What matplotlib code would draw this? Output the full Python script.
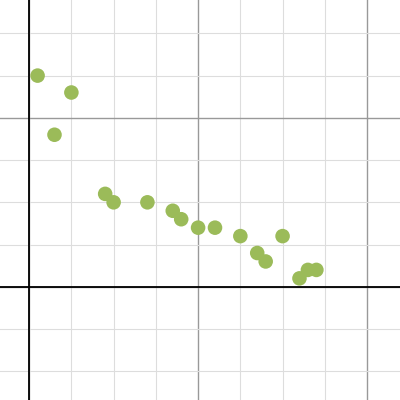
import matplotlib
matplotlib.use("Agg")
import matplotlib.pyplot as plt
import numpy as np

x_vals = [0.2, 1.0, 0.6, 1.8, 2.0, 2.8, 3.4, 3.6, 4.0, 4.4, 5.0, 5.4, 5.6, 6.0, 6.4, 6.6, 6.8]
y_vals = [5.0, 4.6, 3.6, 2.2, 2.0, 2.0, 1.8, 1.6, 1.4, 1.4, 1.2, 0.8, 0.6, 1.2, 0.2, 0.4, 0.4]

fig = plt.figure(figsize=(4, 4), dpi=100)
ax = fig.add_axes([0, 0, 1, 1])
x0, x1 = -0.69, 8.78
y0, y1 = -2.68, 6.79
ax.set_xlim(x0, x1)
ax.set_ylim(y0, y1)
for v in np.arange(-2, 10):
    major = v % 4 == 0
    ax.axvline(v, color='#999999' if major else '#dddddd', lw=1 if major else 0.8, zorder=0)
for v in np.arange(-3, 8):
    major = v % 4 == 0
    ax.axhline(v, color='#999999' if major else '#dddddd', lw=1 if major else 0.8, zorder=0)
ax.axvline(0, color='black', lw=1.3, zorder=1)
ax.axhline(0, color='black', lw=1.3, zorder=1)
ax.scatter(x_vals, y_vals, s=110, color='#9bbb59', zorder=3, edgecolors='none')
ax.set_xticks([]); ax.set_yticks([])
for s in ax.spines.values():
    s.set_visible(False)
fig.savefig('out.png', dpi=100)
